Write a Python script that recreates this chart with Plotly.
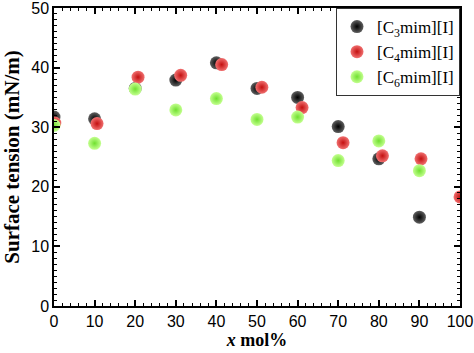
import plotly.graph_objects as go

# Data
x_c3 = [0, 10, 20, 30, 40, 50, 60, 70, 80, 90]
y_c3 = [31.7, 31.4, 36.5, 37.9, 40.8, 36.5, 35.0, 30.1, 24.7, 14.9]

x_c4 = [0.2, 10.6, 20.7, 31.2, 41.3, 51.2, 61.1, 71.2, 80.9, 90.4, 100]
y_c4 = [30.7, 30.6, 38.4, 38.7, 40.5, 36.7, 33.3, 27.4, 25.2, 24.7, 18.3]

x_c6 = [0, 10, 20, 30, 40, 50, 60, 70, 80, 90]
y_c6 = [30.3, 27.3, 36.4, 32.9, 34.8, 31.3, 31.7, 24.4, 27.7, 22.7]

names = ["[C<sub>3</sub>mim][I]", "[C<sub>4</sub>mim][I]", "[C<sub>6</sub>mim][I]"]

x_ticks = [0, 10, 20, 30, 40, 50, 60, 70, 80, 90, 100]
y_ticks = [0, 10, 20, 30, 40, 50]

fig = go.Figure()

series = [
    (x_c3, y_c3, names[0], "#606060", "#000000"),
    (x_c4, y_c4, names[1], "#f07070", "#c41010"),
    (x_c6, y_c6, names[2], "#c4ff90", "#70e030"),
]
for xs, ys, nm, c_in, c_out in series:
    fig.add_trace(go.Scatter(
        x=xs, y=ys, mode="markers", name=nm,
        marker=dict(size=13, color=c_in,
                    gradient=dict(type="radial", color=c_out),
                    line=dict(width=0)),
    ))

axis_common = dict(
    showline=True, linecolor="black", linewidth=1.5, mirror="allticks",
    ticks="inside", ticklen=6, tickwidth=1.5, tickcolor="black",
    showgrid=False, zeroline=False, automargin=False,
    ticklabeloverflow="allow",
    tickfont=dict(family="Liberation Sans Narrow, Liberation Sans, Arial", size=16, color="black"),
)

fig.update_xaxes(
    range=[0, 100], tickvals=x_ticks,
    minor=dict(ticks="inside", ticklen=3, tickwidth=1.2, tickcolor="black", dtick=2, showgrid=False),
    title=dict(text="<b><i>x</i> mol%</b>", font=dict(family="Liberation Serif, Times New Roman", size=18, color="black"), standoff=4),
    **axis_common,
)
fig.update_yaxes(
    range=[0, 50], tickvals=y_ticks,
    minor=dict(ticks="inside", ticklen=3, tickwidth=1.2, tickcolor="black", dtick=1, showgrid=False),
    title=dict(text="<b>Surface tension (mN/m)</b>", font=dict(family="Liberation Serif, Times New Roman", size=21, color="black"), standoff=6),
    **axis_common,
)

fig.update_layout(
    width=474, height=353,
    margin=dict(l=54, r=14, t=8, b=47),
    paper_bgcolor="white", plot_bgcolor="white",
    legend=dict(
        x=1, y=1, xanchor="right", yanchor="top",
        bordercolor="#333333", borderwidth=1, bgcolor="white",
        font=dict(family="Liberation Serif, Times New Roman", size=17, color="black"),
        itemwidth=30, tracegroupgap=4,
    ),
    showlegend=True,
)

fig.write_html("out.html")
